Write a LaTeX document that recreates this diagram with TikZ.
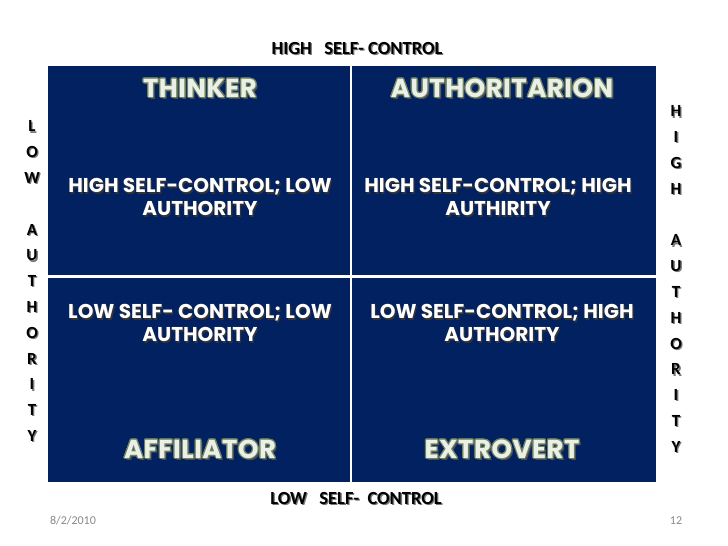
\documentclass[tikz,border=0pt]{standalone}
\usepackage{fontspec}
\usepackage{contour}
\setmainfont{Carlito}
\newfontfamily\descfont{Poppins}
\newfontfamily\titlefont[LetterSpace=2]{Poppins}
\definecolor{quadblue}{RGB}{2,33,96}
\definecolor{titlefill}{RGB}{235,240,230}
\definecolor{titleline}{RGB}{110,130,100}
\definecolor{shadowgray}{RGB}{120,120,120}
\definecolor{dategray}{RGB}{137,137,137}
\newcommand\shd[2][shadowgray]{\leavevmode\rlap{\kern1.3pt\raisebox{-1.3pt}{\textcolor{#1}{#2}}}#2}
\newcommand\ttl[1]{\leavevmode\rlap{\kern2pt\raisebox{-2pt}{\textcolor{black!70}{#1}}}\contour{titleline}{\textcolor{titlefill}{#1}}}
\contourlength{1.1pt}
\begin{document}
\begin{tikzpicture}[x=1pt,y=-1pt,
  lbl/.style={font=\fontsize{18.5}{20}\selectfont\bfseries, text=black, inner sep=0pt},
  vletter/.style={font=\fontsize{17}{18}\selectfont\bfseries, text=black, inner sep=0pt},
  desc/.style={font=\descfont\fontsize{20}{23}\selectfont\bfseries, text=white, align=center, inner sep=0pt},
  title/.style={font=\titlefont\fontsize{26}{28}\selectfont\bfseries, inner sep=0pt},
  foot/.style={font=\fontsize{12}{13}\selectfont, text=dategray, inner sep=0pt}]
\useasboundingbox (0,0) rectangle (728,546);
\fill[white] (0,0) rectangle (728,546);
% grid
\fill[quadblue] (48,66) rectangle (656,482);
\coordinate (vt) at (351,66);
\coordinate (vb) at (351,482);
\coordinate (hl) at (48,276.5);
\coordinate (hr) at (656,276.5);
\draw[white, line width=1.6pt] (vt) -- (vb);
\draw[white, line width=3pt] (hl) -- (hr);
% titles
\node[title] (thinker) at (200,89) {\ttl{THINKER}};
\node[title] (author) at (502,89) {\ttl{AUTHORITARION}};
\node[title] (affil) at (200,450) {\ttl{AFFILIATOR}};
\node[title] (extro) at (502,450) {\ttl{EXTROVERT}};
% descriptions
\node[desc] (q1) at (200,198) {\shd[black!80]{HIGH SELF-CONTROL; LOW}\\\shd[black!80]{AUTHORITY}};
\node[desc] (q2) at (498,198) {\shd[black!80]{HIGH SELF-CONTROL; HIGH}\\\shd[black!80]{AUTHIRITY}};
\node[desc] (q3) at (200,324) {\shd[black!80]{LOW SELF- CONTROL; LOW}\\\shd[black!80]{AUTHORITY}};
\node[desc] (q4) at (502,324) {\shd[black!80]{LOW SELF-CONTROL; HIGH}\\\shd[black!80]{AUTHORITY}};
% axis labels
\node[lbl] (top) at (357,49) {\shd{HIGH\ \ \ SELF- CONTROL}};
\node[lbl] (bottom) at (356,499) {\shd{LOW\ \ \ SELF-\ \ CONTROL}};
\foreach \ch [count=\i] in {L,O,W,{},A,U,T,H,O,R,I,T,Y}
  \node[vletter] (left\i) at (32,127+25.8*\i-25.8) {\shd{\ch}};
\foreach \ch [count=\i] in {H,I,G,H,{},A,U,T,H,O,R,I,T,Y}
  \node[vletter] (right\i) at (676,112+25.8*\i-25.8) {\shd{\ch}};
% footer
\node[foot] (date) at (73,521) {8/2/2010};
\node[foot] (page) at (676,521) {12};
\end{tikzpicture}
\end{document}
